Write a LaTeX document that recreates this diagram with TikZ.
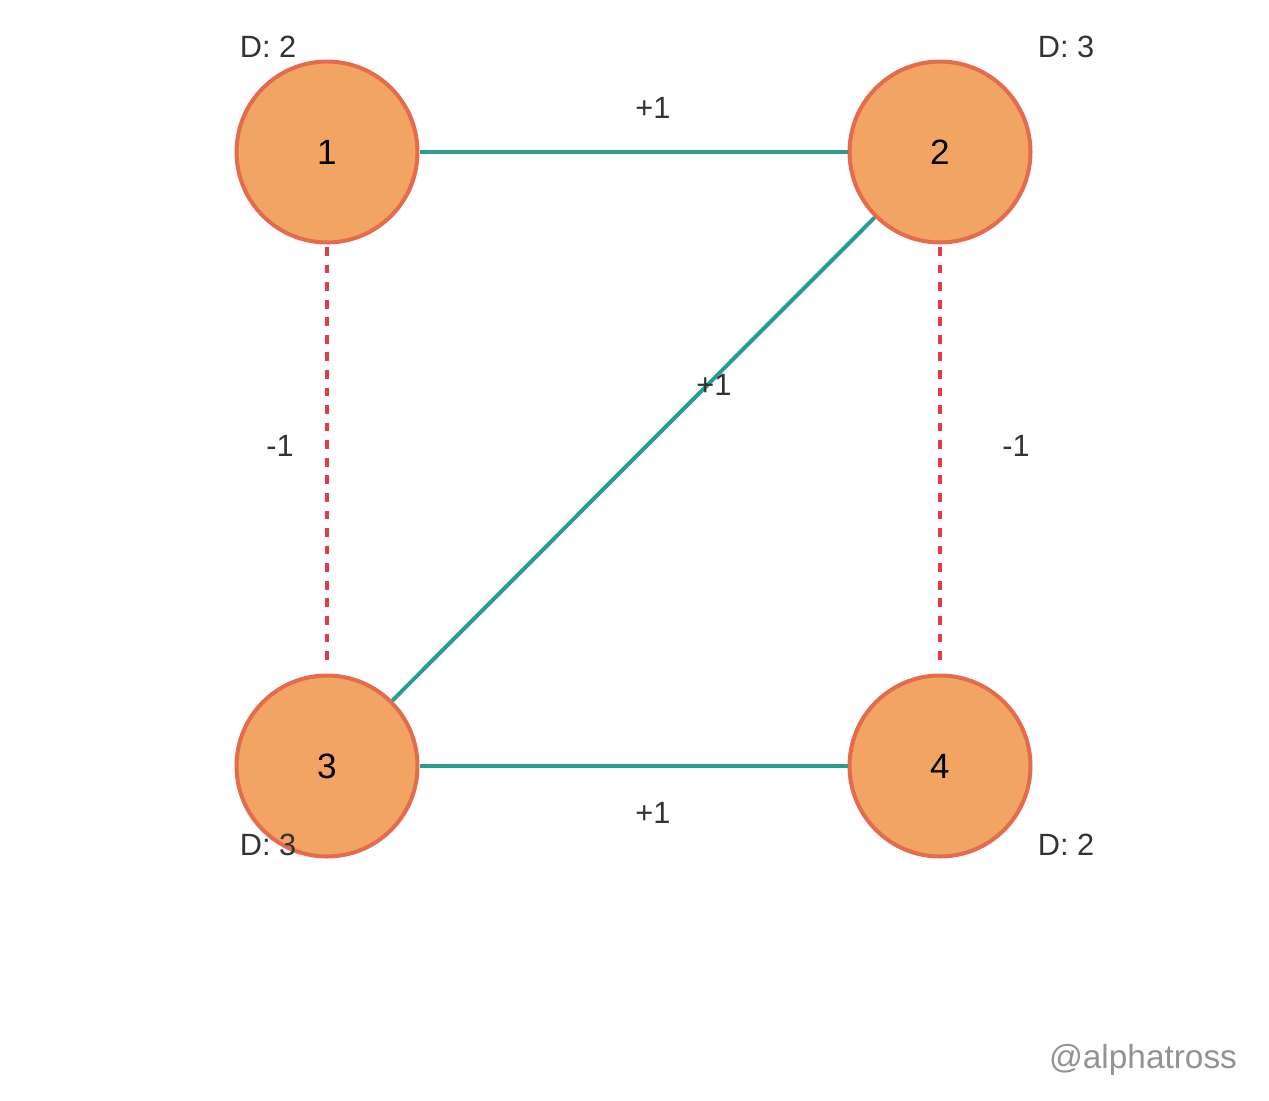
\documentclass[tikz,border=0pt]{standalone}
\usepackage{fontspec}
\setmainfont{Liberation Sans}
\definecolor{nfill}{HTML}{F2A462}
\definecolor{nline}{HTML}{E56B4E}
\definecolor{gline}{HTML}{2A9D8F}
\definecolor{rline}{HTML}{E63946}
\definecolor{txt}{HTML}{333333}
\begin{document}
\begin{tikzpicture}[x=0.02cm,y=-0.02cm,
  vert/.style={circle,draw=nline,fill=nfill,line width=2.3pt,minimum size=3.62cm,inner sep=0pt,font=\fontsize{20}{24}\selectfont},
  posedge/.style={draw=gline,line width=2.3pt},
  negedge/.style={draw=rline,line width=2.3pt,dash pattern=on 5pt off 5pt},
  lab/.style={text=txt,font=\fontsize{17.5}{21}\selectfont}]
\useasboundingbox (0,0) rectangle (1269,1100);
\node[vert] (n1) at (327,152) {1};
\node[vert] (n2) at (940,152) {2};
\node[vert] (n3) at (327,766) {3};
\node[vert] (n4) at (940,766) {4};
\coordinate (a1) at (327,247);
\coordinate (a3) at (327,662);
\coordinate (b2) at (940,247);
\coordinate (b4) at (940,662);
\draw[negedge] (a1) -- (a3);
\draw[negedge] (b2) -- (b4);
\draw[posedge] (n1) -- (n2);
\draw[posedge] (n3) -- (n4);
\draw[posedge] (n3) -- (n2);
\node[lab] (l12) at (653,108) {+1};
\node[lab] (l23) at (714,385) {+1};
\node[lab] (l13) at (280,446) {-1};
\node[lab] (l24) at (1016,446) {-1};
\node[lab] (l34) at (653,813) {+1};
\node[lab] (d1) at (268,47) {D: 2};
\node[lab] (d2) at (1066,47) {D: 3};
\node[lab] (d3) at (268,845) {D: 3};
\node[lab] (d4) at (1066,845) {D: 2};
\node[text=gray!85,font=\fontsize{19}{23}\selectfont] (wm) at (1143,1060) {@alphatross};
\end{tikzpicture}
\end{document}
